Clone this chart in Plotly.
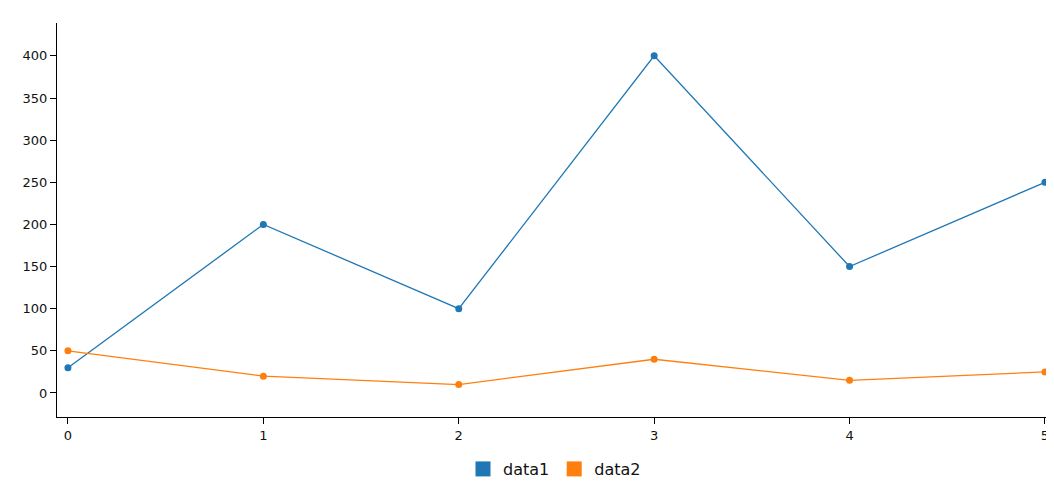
import plotly.graph_objects as go

x_vals = [0, 1, 2, 3, 4, 5]
data1 = [30, 200, 100, 400, 150, 250]
data2 = [50, 20, 10, 40, 15, 25]
y_ticks = [0, 50, 100, 150, 200, 250, 300, 350, 400]

blue = "#1f77b4"
orange = "#ff7f0e"

fig = go.Figure()
for name, vals, color in [("data1", data1, blue), ("data2", data2, orange)]:
    fig.add_trace(go.Scatter(x=x_vals, y=vals, mode="lines+markers", name=name,
                             line=dict(color=color, width=1.3),
                             marker=dict(color=color, size=7),
                             showlegend=False, cliponaxis=False))
    # square legend swatch like the original
    fig.add_trace(go.Scatter(x=[None], y=[None], mode="markers", name=name,
                             marker=dict(color=color, size=15, symbol="square")))

fig.update_layout(
    width=1054, height=483,
    margin=dict(l=49, r=10, t=15, b=74, autoexpand=False),
    plot_bgcolor="white", paper_bgcolor="white",
    font=dict(family="DejaVu Sans", size=13, color="#111"),
    legend=dict(orientation="h", x=0.5, xanchor="center", y=-0.132, yanchor="middle",
                font=dict(size=16), itemwidth=30),
)
fig.update_xaxes(range=[-0.056, 5.036], tickvals=x_vals, showgrid=False, zeroline=False,
                 showline=True, linecolor="black", ticks="outside", ticklen=6,
                 tickcolor="black", automargin=False)
fig.update_yaxes(range=[-28.5, 439], tickvals=y_ticks, showgrid=False, zeroline=False,
                 showline=True, linecolor="black", ticks="outside", ticklen=6,
                 tickcolor="black", automargin=False)

fig.write_html("out.html")
